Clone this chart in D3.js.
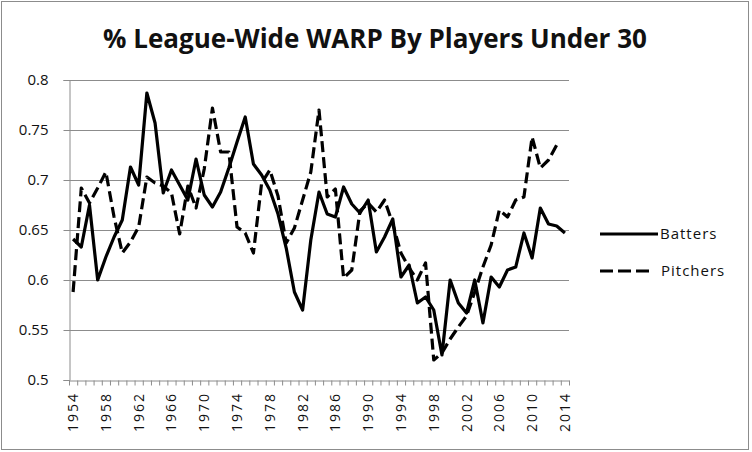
<!DOCTYPE html>
<html>
<head>
<meta charset="utf-8">
<script src="https://d3js.org/d3.v7.min.js"></script>
<style>
  body { margin: 0; background: #fff; }
  svg text { font-family: "Open Sans", "Liberation Sans", sans-serif; fill: #111; }
</style>
</head>
<body>
<svg id="chart" width="752" height="452"></svg>
<script>
// ---------- data ----------
const years = d3.range(1954, 2015);

const batters = [
  0.641, 0.633, 0.675, 0.600, 0.623, 0.643, 0.660, 0.713, 0.695, 0.787,
  0.757, 0.687, 0.710, 0.695, 0.680, 0.721, 0.685, 0.673, 0.688, 0.712,
  0.738, 0.763, 0.716, 0.705, 0.690, 0.666, 0.632, 0.588, 0.570, 0.640,
  0.688, 0.666, 0.663, 0.693, 0.676, 0.667, 0.680, 0.628, 0.643, 0.661,
  0.603, 0.615, 0.577, 0.583, 0.570, 0.525, 0.600, 0.577, 0.567, 0.600,
  0.557, 0.603, 0.593, 0.610, 0.613, 0.647, 0.622, 0.672, 0.656, 0.654,
  0.647
];

const pitchers = [
  0.588, 0.692, 0.677, 0.692, 0.708, 0.663, 0.627, 0.638, 0.653, 0.703,
  0.697, 0.694, 0.687, 0.646, 0.694, 0.672, 0.711, 0.772, 0.728, 0.728,
  0.653, 0.647, 0.627, 0.697, 0.710, 0.684, 0.637, 0.652, 0.680, 0.708,
  0.770, 0.683, 0.691, 0.602, 0.610, 0.669, 0.677, 0.668, 0.680, 0.656,
  0.627, 0.612, 0.600, 0.617, 0.520, 0.527, 0.541, 0.553, 0.564, 0.588,
  0.613, 0.635, 0.670, 0.663, 0.680, 0.683, 0.743, 0.712, 0.720, 0.735,
  null
];

const yTicks = [0.5, 0.55, 0.6, 0.65, 0.7, 0.75, 0.8];
const labelYears = d3.range(1954, 2015, 4);

const series = [
  {name: 'Batters', values: batters, dash: null},
  {name: 'Pitchers', values: pitchers, dash: '11,5'}
];

// ---------- layout ----------
const plot = {left: 69, right: 569, top: 80, bottom: 380};
const svg = d3.select('#chart');

// outer frame
svg.append('rect')
  .attr('x', 1.5).attr('y', 1.5)
  .attr('width', 747).attr('height', 448)
  .attr('fill', '#fff')
  .attr('stroke', '#8c8c8c');

// title
svg.append('text')
  .attr('x', 375).attr('y', 48)
  .attr('text-anchor', 'middle')
  .style('font-size', '26px')
  .style('font-weight', 'bold')
  .text('% League-Wide WARP By Players Under 30');

// scales
const x = d3.scaleLinear().domain([1953.5, 2014.5]).range([plot.left, plot.right]);
const y = d3.scaleLinear().domain([0.5, 0.8]).range([plot.bottom, plot.top]);

// gridlines
svg.append('g')
  .selectAll('line')
  .data(yTicks.slice(1))
  .join('line')
    .attr('x1', plot.left).attr('x2', plot.right)
    .attr('y1', d => Math.round(y(d)) + 0.5)
    .attr('y2', d => Math.round(y(d)) + 0.5)
    .attr('stroke', '#8c8c8c');

// y axis
const yAxis = svg.append('g')
  .attr('transform', `translate(${plot.left + 0.5},0)`)
  .call(d3.axisLeft(y).tickValues(yTicks).tickFormat(d => String(+d.toFixed(2))).tickSize(6).tickPadding(15));
yAxis.select('.domain').attr('stroke', '#8c8c8c');
yAxis.selectAll('.tick line').attr('stroke', '#8c8c8c');
yAxis.selectAll('.tick text')
  .style('font-size', '15px')
  .attr('fill', '#111');

// x axis: tick marks between categories
const edges = d3.range(1953.5, 2015, 1);
const xAxis = svg.append('g')
  .attr('transform', `translate(0,${plot.bottom + 0.5})`)
  .call(d3.axisBottom(x).tickValues(edges).tickFormat('').tickSize(5).tickSizeOuter(0));
xAxis.select('.domain').attr('stroke', '#8c8c8c');
xAxis.selectAll('.tick line').attr('stroke', '#8c8c8c');

// x labels, rotated
svg.append('g')
  .selectAll('text')
  .data(labelYears)
  .join('text')
    .attr('transform', d => `translate(${x(d) + 5},${plot.bottom + 12}) rotate(-90)`)
    .attr('text-anchor', 'end')
    .style('font-size', '14px')
    .style('letter-spacing', '2px')
    .text(d => d);

// lines
const line = d3.line()
  .defined(d => d.v != null)
  .x(d => x(d.year))
  .y(d => y(d.v));

svg.append('g')
  .selectAll('path')
  .data(series)
  .join('path')
    .attr('d', s => line(years.map((yr, i) => ({year: yr, v: s.values[i]}))))
    .attr('fill', 'none')
    .attr('stroke', '#000')
    .attr('stroke-width', 3.2)
    .attr('stroke-linejoin', 'round')
    .attr('stroke-dasharray', s => s.dash);

// legend
const legend = svg.append('g')
  .selectAll('g')
  .data(series)
  .join('g')
    .attr('transform', (s, i) => `translate(600,${234 + i * 37})`);

legend.append('line')
  .attr('x1', 0).attr('x2', s => s.dash ? 51 : 58)
  .attr('stroke', '#000')
  .attr('stroke-width', 3.2)
  .attr('stroke-dasharray', s => s.dash ? '13,5' : null);

legend.append('text')
  .attr('x', s => s.dash ? 61 : 60)
  .attr('dy', '0.35em')
  .style('font-size', '15px')
  .style('letter-spacing', '1px')
  .text(s => s.name);
</script>
</body>
</html>
